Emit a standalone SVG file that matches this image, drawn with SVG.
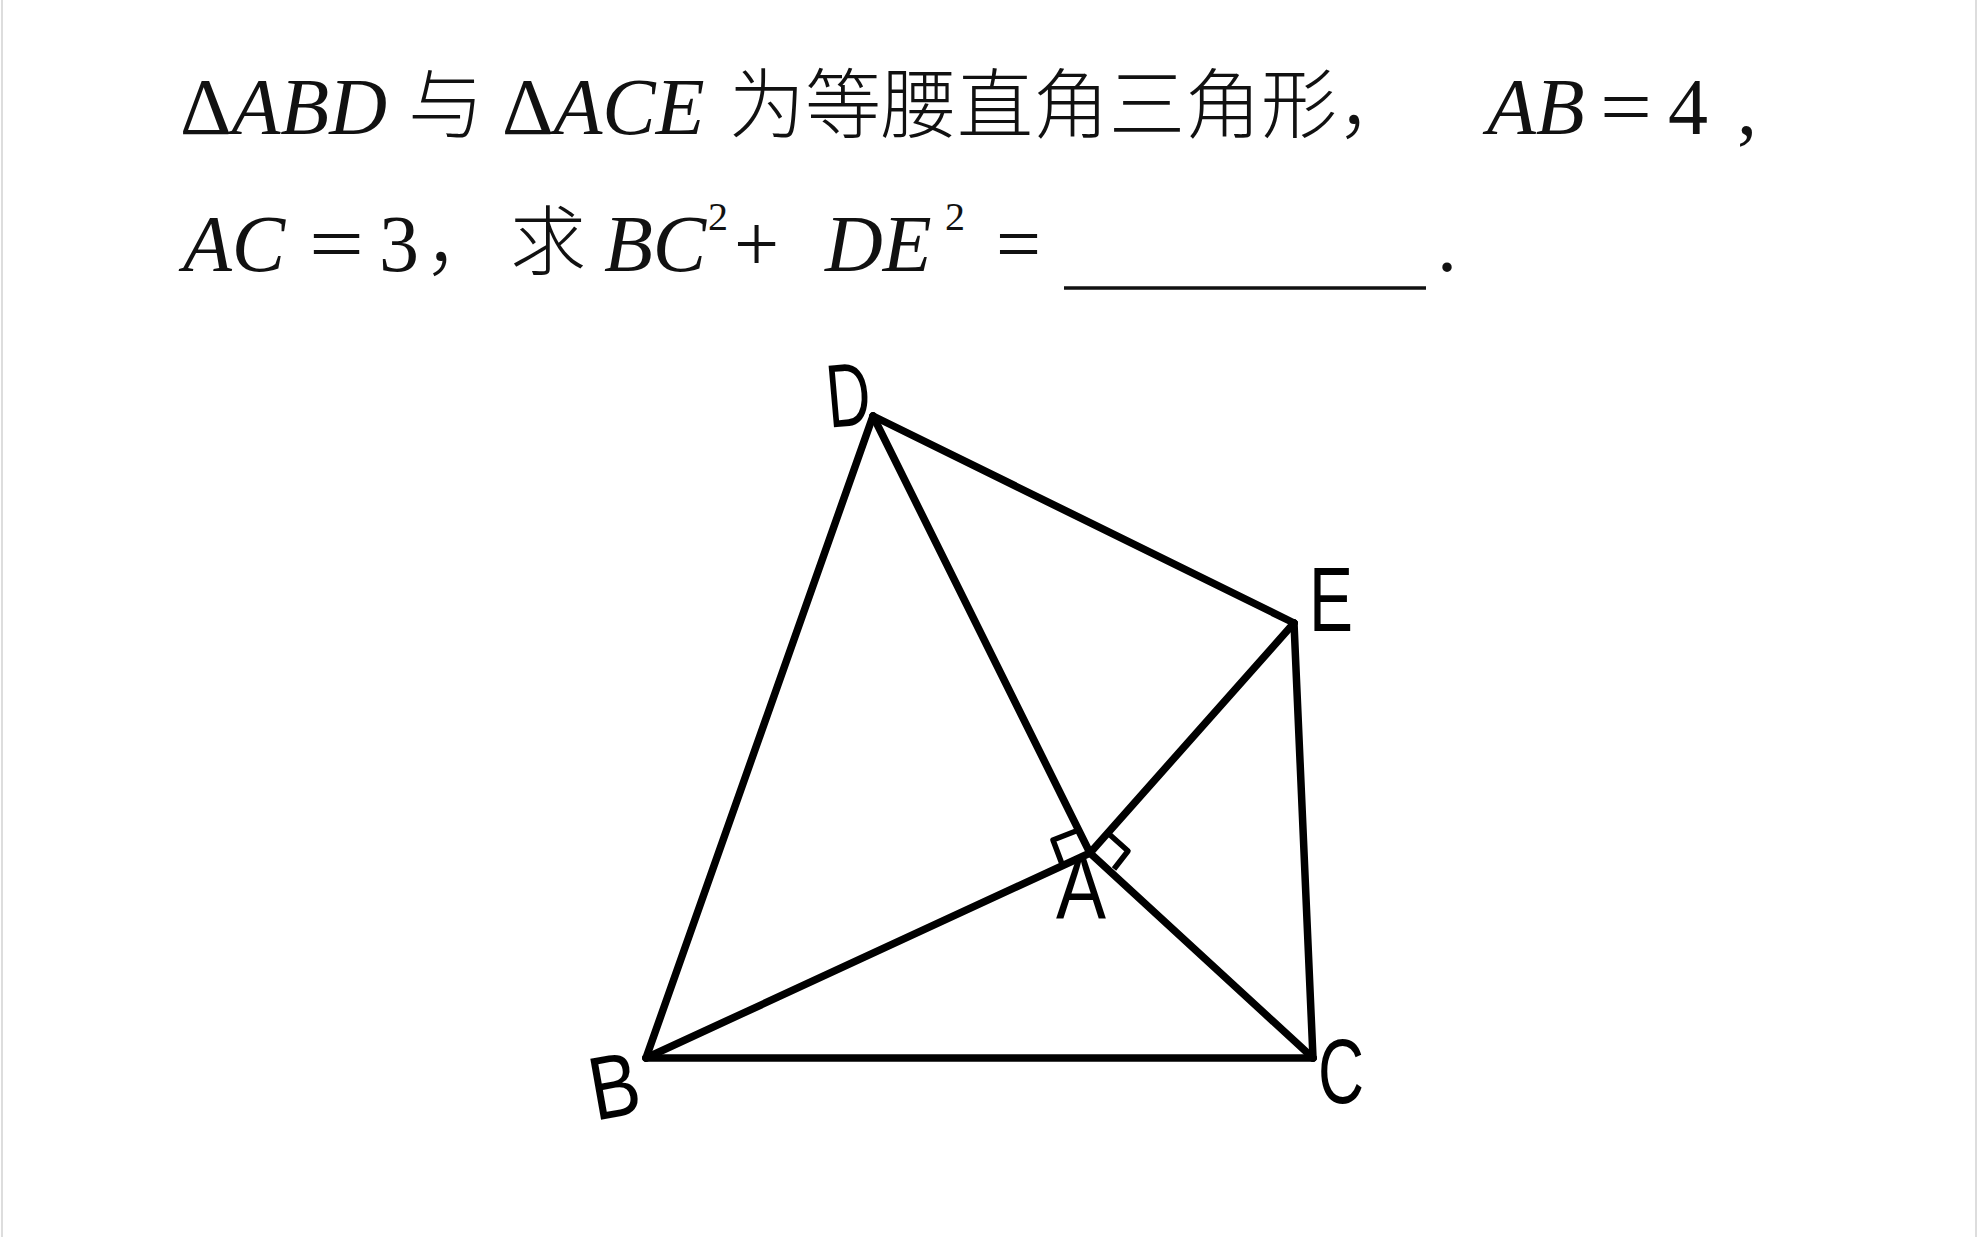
<svg xmlns="http://www.w3.org/2000/svg" width="1979" height="1237" viewBox="0 0 1979 1237">
<style>
.t{font-family:"Liberation Serif","Noto Sans CJK SC",serif;font-size:80px;fill:#111}
.i{font-style:italic}
.cjk{font-family:"Noto Sans CJK SC",sans-serif;font-size:76px;fill:#111;font-weight:300}
.sup{font-family:"Liberation Serif",serif;font-size:40px;fill:#111}
.seg{stroke:#000;stroke-width:7.5;stroke-linecap:round;fill:none}
.mark{stroke:#000;stroke-width:5.5;fill:none;stroke-linejoin:round}
.lbl{font-family:"Liberation Sans",sans-serif;font-size:90px;fill:#000}
</style>
<rect width="1979" height="1237" fill="#fff"/>
<line x1="2" y1="0" x2="2" y2="1237" stroke="#ddd" stroke-width="2"/>
<line x1="1976" y1="0" x2="1976" y2="1237" stroke="#ddd" stroke-width="2"/>
<g id="question">
<text class="t" x="180" y="134">Δ<tspan class="i">ABD</tspan></text>
<text class="cjk" x="408" y="132">与</text>
<text class="t" x="502" y="134">Δ<tspan class="i">ACE</tspan></text>
<text class="cjk" x="729" y="132">为等腰直角三角形，</text>
<text class="t i" x="1487" y="134">AB</text>
<text class="t" x="1600" y="134" textLength="52" lengthAdjust="spacingAndGlyphs">=</text>
<text class="t" x="1668" y="134">4</text>
<text class="t" x="1737" y="134">,</text>
<text class="t i" x="183" y="271">AC</text>
<text class="t" x="309" y="271" textLength="55" lengthAdjust="spacingAndGlyphs">=</text>
<text class="t" x="379" y="271">3</text>
<text class="cjk" x="424" y="269">，</text>
<text class="cjk" x="510" y="269">求</text>
<text class="t i" x="604" y="271">BC</text>
<text class="sup" x="708" y="230">2</text>
<text class="t" x="734" y="271">+</text>
<text class="t i" x="825" y="271">DE</text>
<text class="sup" x="945" y="230">2</text>
<text class="t" x="996" y="271" textLength="45" lengthAdjust="spacingAndGlyphs">=</text>
<line x1="1064" y1="288" x2="1426" y2="288" stroke="#111" stroke-width="3.5"/>
<text class="t" x="1437" y="271">.</text>
</g>
<g id="connectors">
<line class="seg" x1="873" y1="416" x2="646" y2="1058"/>
<line class="seg" x1="873" y1="416" x2="1090" y2="853"/>
<line class="seg" x1="873" y1="416" x2="1294" y2="623"/>
<line class="seg" x1="1294" y1="623" x2="1090" y2="853"/>
<line class="seg" x1="1294" y1="623" x2="1313" y2="1058"/>
<line class="seg" x1="646" y1="1058" x2="1090" y2="853"/>
<line class="seg" x1="1090" y1="853" x2="1313" y2="1058"/>
<line class="seg" x1="646" y1="1058" x2="1313" y2="1058"/>
<polyline class="mark" points="1076,831 1053,840 1062,864"/>
<polyline class="mark" points="1109,834 1128,851 1114,869"/>
</g>
<g id="node-D"><text class="lbl" x="826" y="426" textLength="44" lengthAdjust="spacingAndGlyphs" transform="rotate(-5 848 392)">D</text></g>
<g id="node-E"><text class="lbl" x="1309" y="631" textLength="44" lengthAdjust="spacingAndGlyphs">E</text></g>
<g id="node-A"><text class="lbl" x="1056" y="918" textLength="50" lengthAdjust="spacingAndGlyphs">A</text></g>
<g id="node-B"><text class="lbl" x="589" y="1117" textLength="50" lengthAdjust="spacingAndGlyphs" transform="rotate(-10 614 1085)">B</text></g>
<g id="node-C"><text class="lbl" x="1318" y="1103" textLength="46" lengthAdjust="spacingAndGlyphs">C</text></g>
</svg>
